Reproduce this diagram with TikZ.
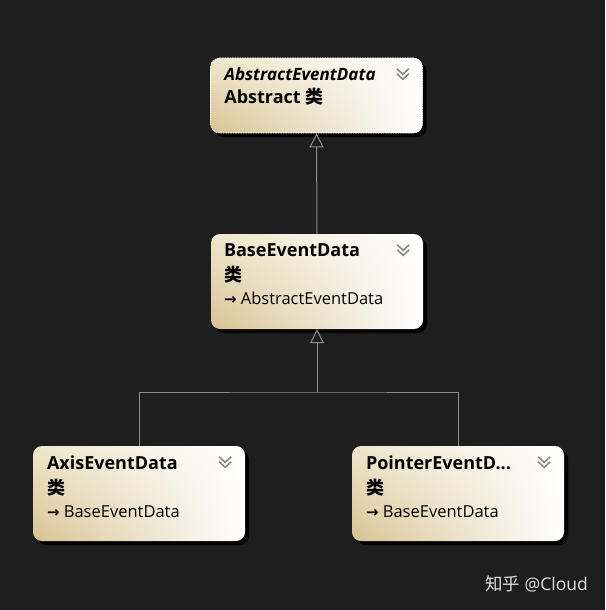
\documentclass[tikz,border=0pt]{standalone}
\usepackage{fontspec}
\setmainfont{Open Sans}
\newfontfamily\cjk{Noto Sans CJK SC}
\newfontfamily\symf{DejaVu Sans}
\usetikzlibrary{positioning,shadows,shadings,arrows.meta}
\definecolor{bg}{HTML}{1E1E1E}
\definecolor{tandark}{HTML}{D8C393}
\definecolor{tanlight}{HTML}{F0E6CC}
\definecolor{link}{HTML}{8E8E8E}
\definecolor{chev}{HTML}{8A8A8A}
\tikzset{
  classbox/.style={rounded corners=9pt, minimum width=212pt, minimum height=95pt,
    inner sep=0pt, upper left=tanlight, lower left=tandark,
    upper right=white, lower right=white,
    drop shadow={fill=black, opacity=1, shadow xshift=4pt, shadow yshift=-4pt}},
  classname/.style={anchor=base west, inner sep=0pt, font=\fontsize{18}{20}\selectfont\bfseries},
  classinfo/.style={anchor=base west, inner sep=0pt, font=\fontsize{16.5}{18}\selectfont},
  inherit/.style={draw=link, line width=1pt, -{Triangle[open, length=14pt, width=14pt]}},
}
\newcommand\chevrons[1]{%
  \begin{scope}[shift={(#1.north east)}, chev, line width=1.6pt]
    \draw (-26,11) -- (-20,16.5) -- (-14,11);
    \draw (-26,16) -- (-20,21.5) -- (-14,16);
  \end{scope}}
\newcommand\parent{{\symf\bfseries\fontsize{15}{17}\selectfont →}}
\begin{document}
\begin{tikzpicture}[x=1pt, y=-1pt]
  \fill[bg] (0,0) rectangle (605,610);
  \useasboundingbox (0,0) rectangle (605,610);
  % classes
  \node[classbox, minimum height=75pt, draw=white, line width=0.6pt,
        dash pattern=on 1.5pt off 1pt] (abs) at (316.5,95.5) {};
  \node[classbox] (base) at (317,281.5) {};
  \node[classbox] (axis) at (139,493.5) {};
  \node[classbox] (ptr) at (458,493.5) {};
  % texts
  \node[classname, font=\fontsize{17}{20}\selectfont\bfseries\itshape] (absT)
    at ([xshift=14pt, yshift=-23pt]abs.north west) {AbstractEventData};
  \node[classname] (absK) at ([yshift=-23pt]absT.base west) {Abstract {\cjk 类}};
  \node[classname] (baseT) at ([xshift=13pt, yshift=-23pt]base.north west) {BaseEventData};
  \node[classname] (baseK) at ([yshift=-25pt]baseT.base west) {\cjk 类};
  \node[classinfo] (baseP) at ([yshift=-23pt]baseK.base west) {\parent\ AbstractEventData};
  \node[classname] (axisT) at ([xshift=14pt, yshift=-24pt]axis.north west) {AxisEventData};
  \node[classname] (axisK) at ([yshift=-25pt]axisT.base west) {\cjk 类};
  \node[classinfo] (axisP) at ([yshift=-23pt]axisK.base west) {\parent\ BaseEventData};
  \node[classname] (ptrT) at ([xshift=14pt, yshift=-24pt]ptr.north west) {PointerEventD...};
  \node[classname] (ptrK) at ([yshift=-25pt]ptrT.base west) {\cjk 类};
  \node[classinfo] (ptrP) at ([yshift=-23pt]ptrK.base west) {\parent\ BaseEventData};
  \chevrons{abs}
  \chevrons{base}
  \chevrons{axis}
  \chevrons{ptr}
  % inheritance
  \coordinate (fork) at (317,392);
  \draw[inherit] (base.north) -- (abs.south);
  \draw[inherit] (fork) -- (base.south);
  \draw[link, line width=1pt] (axis.north) |- (fork) -| (ptr.north);
  \node[anchor=base east, inner sep=0pt, text=white!88!black,
        font=\fontsize{17.5}{20}\selectfont] (mark) at (588,590) {{\cjk 知乎} @Cloud};
\end{tikzpicture}
\end{document}
